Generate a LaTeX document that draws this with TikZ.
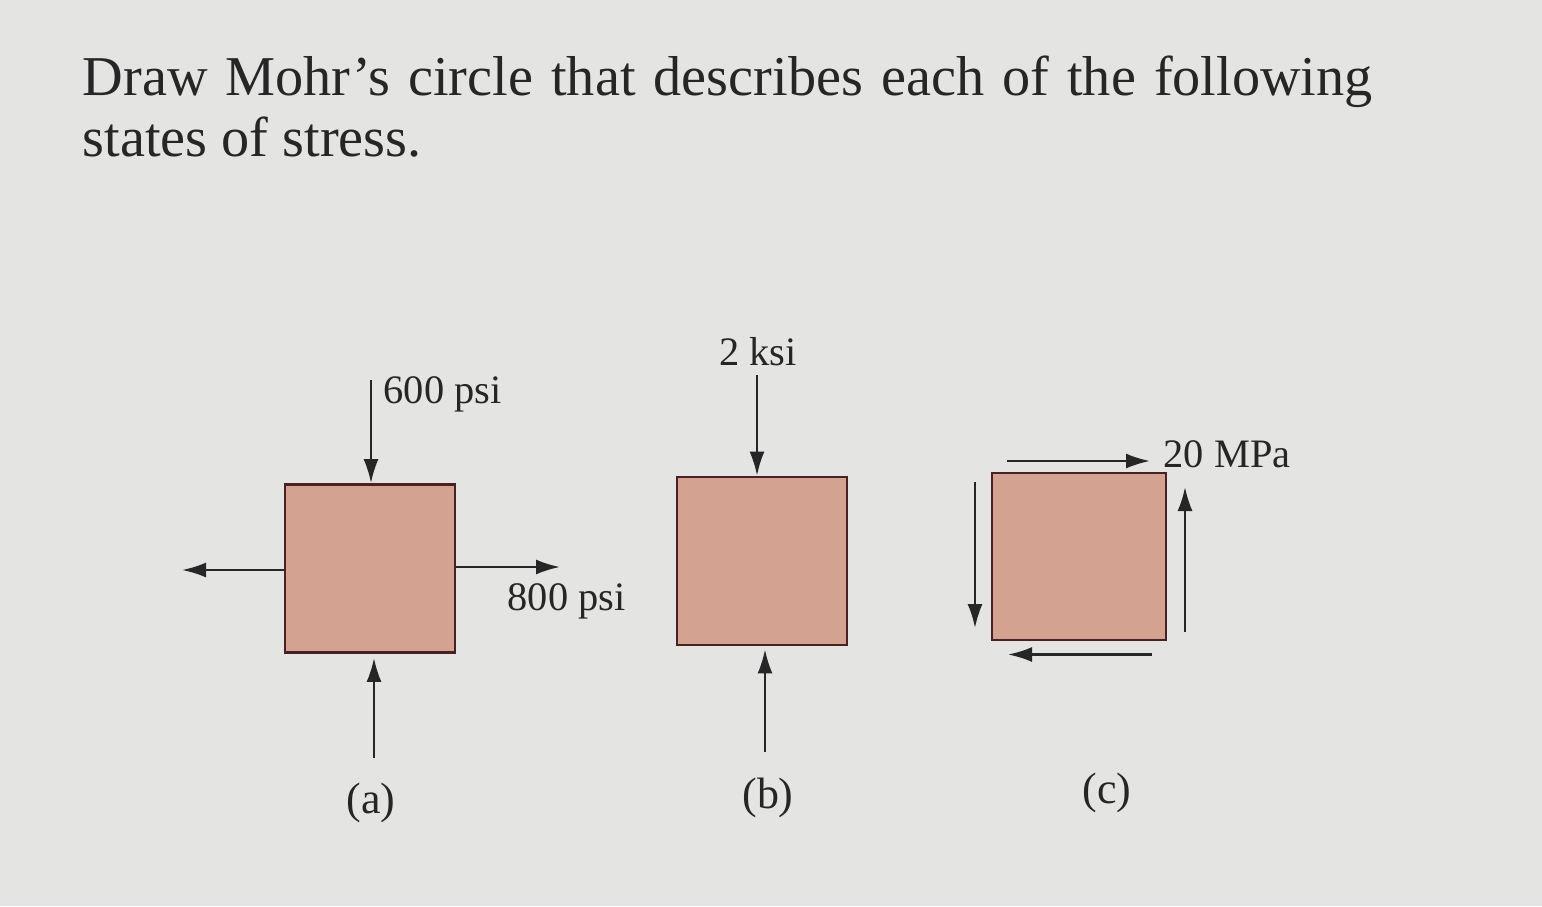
\documentclass[tikz,border=0pt]{standalone}
\usepackage{fontspec}
\setmainfont{Liberation Serif}
\usetikzlibrary{arrows.meta}

\definecolor{paper}{RGB}{228,228,226}
\definecolor{flesh}{RGB}{212,162,144}
\definecolor{edge}{RGB}{72,34,34}
\definecolor{ink}{RGB}{38,38,38}

\tikzstyle{element} = [rectangle, draw=edge, fill=flesh, line width=0.8pt,
    minimum width=1.7cm, minimum height=1.68cm, inner sep=0pt]
\tikzstyle{force} = [draw=ink, line width=0.65pt, -{Latex[length=2.4mm,width=1.5mm]}]
\tikzstyle{value} = [text=ink, font=\fontsize{11.5}{13.8}\selectfont, inner sep=0pt, anchor=base west]
\tikzstyle{case} = [text=ink, font=\fontsize{12.5}{15}\selectfont, inner sep=0pt, anchor=base]

\begin{document}
\begin{tikzpicture}
    \fill [paper] (0,0) rectangle (15.42,-9.06);
    \useasboundingbox (0,0) rectangle (15.42,-9.06);

    \node [anchor=north west, inner sep=0pt, text width=12.9cm, align=justify, text=ink,
        font=\fontsize{16}{17.4}\selectfont] (Task) at (0.82,-0.55)
        {Draw Mohr's circle that describes each of the following\linebreak states of stress.};

    % (a)
    \node [element] (SquareA) at (3.70,-5.685) {};
    \coordinate (TopA) at (3.71,-3.80);
    \coordinate (BotA) at (3.74,-7.58);
    \coordinate (LeftA) at (1.82,-5.70);
    \coordinate (RightA) at (5.60,-5.67);
    \path [force] (TopA) -- (TopA |- SquareA.north);
    \path [force, shorten >=0.04cm] (BotA) -- (BotA |- SquareA.south);
    \path [force] (SquareA.west |- LeftA) -- (LeftA);
    \path [force] (SquareA.east |- RightA) -- (RightA);
    \node [value] (LoadAy) at (3.83,-4.03) {600 psi};
    \node [value] (LoadAx) at (5.07,-6.10) {800 psi};
    \node [case] (CaseA) at (3.71,-8.13) {(a)};

    % (b)
    \node [element] (SquareB) at (7.62,-5.61) {};
    \coordinate (TopB) at (7.57,-3.75);
    \coordinate (BotB) at (7.65,-7.52);
    \path [force] (TopB) -- (TopB |- SquareB.north);
    \path [force, shorten >=0.03cm] (BotB) -- (BotB |- SquareB.south);
    \node [value, anchor=base] (LoadB) at (7.58,-3.65) {2 ksi};
    \node [case] (CaseB) at (7.68,-8.08) {(b)};

    % (c)
    \node [element, minimum width=1.74cm, minimum height=1.67cm] (SquareC) at (10.79,-5.565) {};
    \coordinate (TopCa) at (10.07,-4.61);
    \coordinate (TopCb) at (11.50,-4.61);
    \coordinate (RightCa) at (11.85,-6.32);
    \coordinate (RightCb) at (11.85,-4.87);
    \coordinate (LeftCa) at (9.75,-4.82);
    \coordinate (LeftCb) at (9.75,-6.28);
    \coordinate (BotCa) at (11.52,-6.545);
    \coordinate (BotCb) at (10.08,-6.545);
    \path [force] (TopCa) -- (TopCb);
    \path [force] (RightCa) -- (RightCb);
    \path [force] (LeftCa) -- (LeftCb);
    \path [force] (BotCa) -- (BotCb);
    \node [value] (LoadC) at (11.63,-4.67) {20 MPa};
    \node [case] (CaseC) at (11.07,-8.03) {(c)};
\end{tikzpicture}
\end{document}
